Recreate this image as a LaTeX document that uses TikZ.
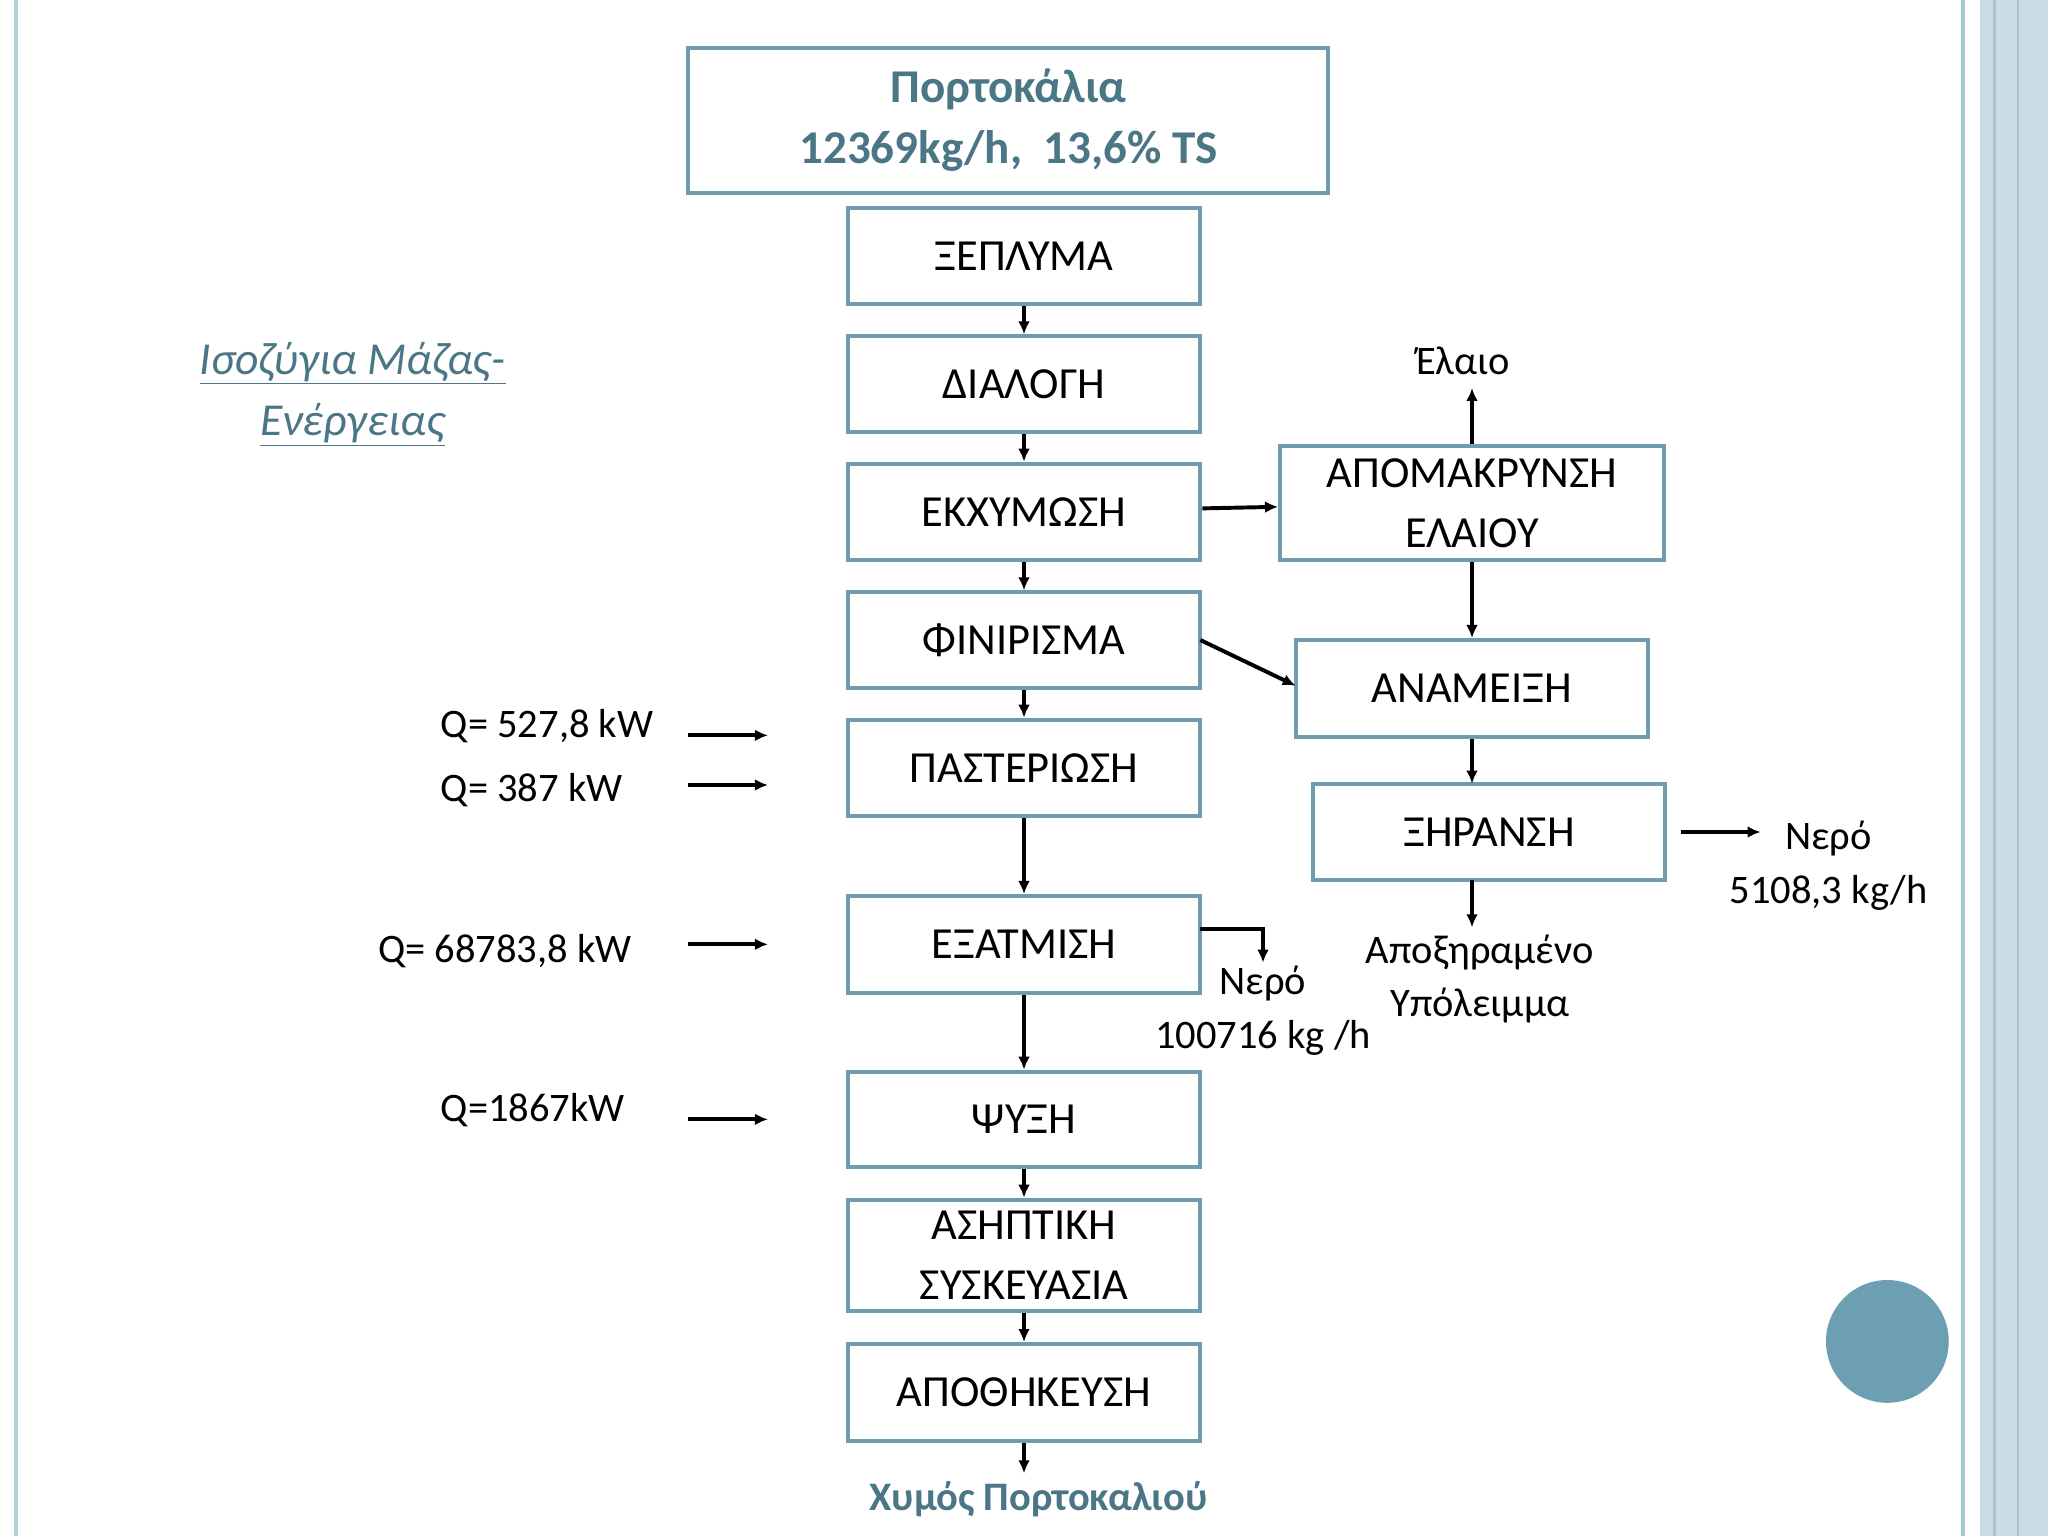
\documentclass[tikz,border=0pt]{standalone}
\usepackage{fontspec}
\setmainfont{Carlito}
\usetikzlibrary{arrows.meta}
\definecolor{bd}{HTML}{6F9DAE}
\definecolor{tt}{HTML}{4A7686}
\definecolor{cc}{HTML}{6B9FB1}
\begin{document}
\begin{tikzpicture}[x=1pt,y=-1pt,
 box/.style={draw=bd,line width=3pt,fill=white,inner sep=0pt,align=center,font=\fontsize{34}{46}\selectfont},
 ar/.style={-{Latex[length=10pt,width=9pt]},line width=3pt},
 lab/.style={font=\fontsize{31}{42}\selectfont,align=center}]
\useasboundingbox (0,0) rectangle (1568,1176);
\fill[white] (0,0) rectangle (1568,1176);
\fill[cc!35] (1516,0) rectangle (1568,1176);
\draw[cc!60,line width=3pt] (1503,0)--(1503,1176);
\draw[cc!60,line width=2pt] (1527,0)--(1527,1176);
\draw[cc!60,line width=2pt] (1545,0)--(1545,1176);
\draw[cc!50,line width=3pt] (12,0)--(12,1176);
\fill[cc] (1445,1027) circle (47);
\node[box,font=\bfseries\fontsize{36}{46}\selectfont,text=tt,minimum width=490,minimum height=111] (top) at (772,92) {Πορτοκάλια\\12369kg/h,\ \ 13,6\% TS};
\foreach \n/\y/\h/\t in {a/196/73/ΞΕΠΛΥΜΑ,b/294/73/ΔΙΑΛΟΓΗ,c/392/74/ΕΚΧΥΜΩΣΗ,d/490/73/ΦΙΝΙΡΙΣΜΑ,e/588/74/ΠΑΣΤΕΡΙΩΣΗ,f/723/74/ΕΞΑΤΜΙΣΗ,g/857/73/ΨΥΞΗ,h/961/85/{ΑΣΗΠΤΙΚΗ\\ΣΥΣΚΕΥΑΣΙΑ},i/1066/74/ΑΠΟΘΗΚΕΥΣΗ}
 \node[box,minimum width=270,minimum height=\h] (\n) at (784,\y) {\t};
\node[box,minimum width=294,minimum height=87] (r1) at (1127,385) {ΑΠΟΜΑΚΡΥΝΣΗ\\ΕΛΑΙΟΥ};
\node[box,minimum width=270,minimum height=74] (r2) at (1127,527) {ΑΝΑΜΕΙΞΗ};
\node[box,minimum width=269,minimum height=74] (r3) at (1140,637) {ΞΗΡΑΝΣΗ};
\foreach \p/\q in {a/b,b/c,c/d,d/e,e/f,f/g,g/h,h/i} \draw[ar] (\p) -- (\q);
\draw[ar] (c) -- (r1);
\draw[ar] (r1) -- (r2);
\draw[ar] (919,490) -- (992,525);
\draw[ar] (r2) -- (1127,600);
\node[lab] (oil) at (1120,276) {Έλαιο};
\draw[ar] (r1.north) -- (1127,297);
\coordinate (fe) at (967,711);
\draw[ar] (919,711) -- (fe) -- (967,737);
\node[lab] at (967,753) {Νερό};
\node[lab] at (967,795) {100716 kg /h};
\draw[ar] (1127,674) -- (1127,710);
\node[lab] at (1133,729) {Αποξηραμένο};
\node[lab] at (1133,770) {Υπόλειμμα};
\draw[ar] (1287,637) -- (1348,637);
\node[lab] at (1400,642) {Νερό};
\node[lab] at (1400,684) {5108,3 kg/h};
\node[lab,anchor=west] at (334,556) {Q= 527,8 kW};
\node[lab,anchor=west] at (334,605) {Q= 387 kW};
\node[lab,anchor=west] at (286,728) {Q= 68783,8 kW};
\node[lab,anchor=west] at (334,850) {Q=1867kW};
\draw[ar] (527,563)--(588,563);
\draw[ar] (527,601)--(588,601);
\draw[ar] (527,723)--(588,723);
\draw[ar] (527,857)--(588,857);
\coordinate (bo) at (784,1128);
\draw[ar] (i) -- (bo);
\node[font=\bfseries\fontsize{31}{40}\selectfont,text=tt] at (795,1148) {Χυμός Πορτοκαλιού};
\node[font=\itshape\fontsize{35}{44}\selectfont,text=tt] at (270,278) {\underline{Ισοζύγια Μάζας-}};
\node[font=\itshape\fontsize{35}{44}\selectfont,text=tt] at (270,325) {\underline{Ενέργειας}};
\end{tikzpicture}
\end{document}
